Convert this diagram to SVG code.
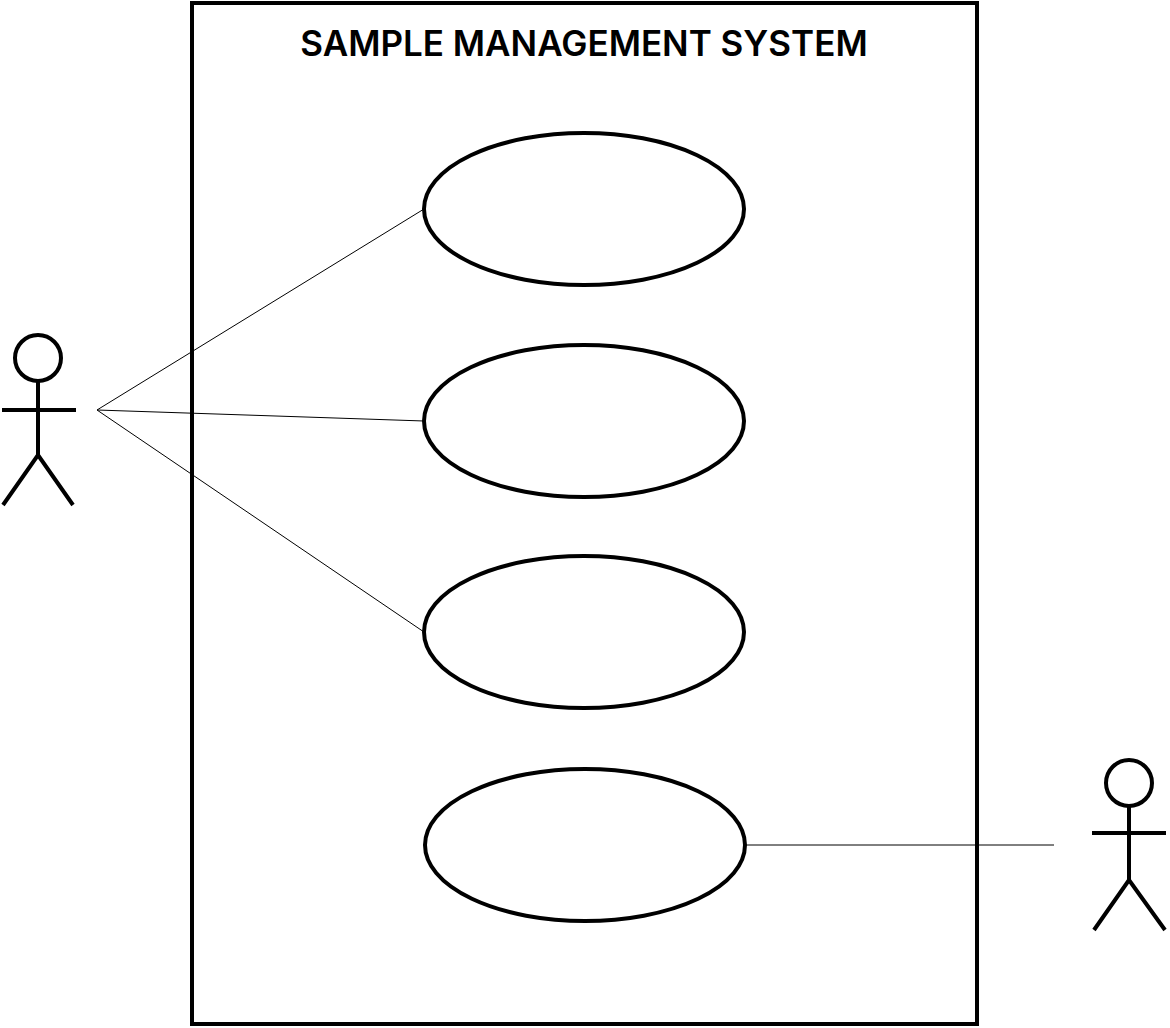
<svg xmlns="http://www.w3.org/2000/svg" width="1170" height="1028" viewBox="0 0 1170 1028">
<style>
.s{fill:none;stroke:#000;stroke-width:4}
.c{fill:none;stroke:#000;stroke-width:1}
.uc{fill:#fff;stroke:#000;stroke-width:4}
</style>
<rect width="1170" height="1028" fill="#fff"/>
<g id="system"><rect class="s" x="192" y="3" width="785" height="1021"/>
<text x="584" y="56" text-anchor="middle" font-family="Inter, 'Open Sans', sans-serif" font-weight="600" font-size="35">SAMPLE MANAGEMENT SYSTEM</text></g>
<g id="connectors">
<line class="c" x1="97" y1="410" x2="424" y2="209"/>
<line class="c" x1="97" y1="410" x2="424" y2="421"/>
<line class="c" x1="97" y1="410" x2="424" y2="632"/>
<line class="c" x1="745" y1="845" x2="1054" y2="845"/>
</g>
<g id="uc1"><ellipse class="uc" cx="584" cy="209" rx="160" ry="76"/></g>
<g id="uc2"><ellipse class="uc" cx="584" cy="421" rx="160" ry="76"/></g>
<g id="uc3"><ellipse class="uc" cx="584" cy="632" rx="160" ry="76"/></g>
<g id="uc4"><ellipse class="uc" cx="585" cy="845" rx="160" ry="76"/></g>
<g id="actor1" class="s"><circle cx="38" cy="358" r="23"/><path d="M38 381V455M2 410H76M3 505L38 455L73 505"/></g>
<g id="actor2" class="s"><circle cx="1129" cy="783" r="23"/><path d="M1129 806V880M1092 833H1166M1094 930L1129 880L1165 930"/></g>
</svg>
